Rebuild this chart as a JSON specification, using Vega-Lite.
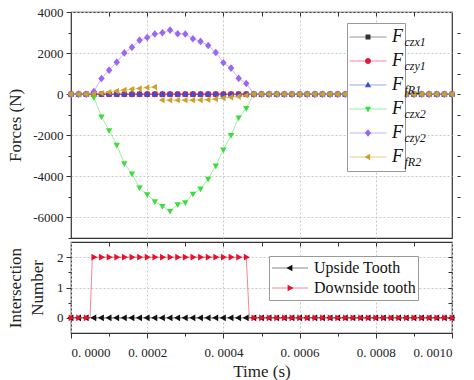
{
  "$schema": "https://vega.github.io/schema/vega-lite/v6.json",
  "padding": {"left": 5, "top": 5, "right": 5, "bottom": 2},
  "config": {
    "font": "Liberation Serif",
    "view": {"stroke": "#333333", "strokeWidth": 1.2},
    "axis": {
      "labelFont": "Liberation Serif", "titleFont": "Liberation Serif",
      "labelFontSize": 13, "titleFontSize": 17, "titleFontWeight": "normal",
      "labelColor": "#222222", "titleColor": "#222222", "tickColor": "#333333",
      "domain": false, "gridColor": "#c8c8c8", "gridDash": [2, 2], "gridWidth": 1
    },
    "legend": {"labelFont": "Liberation Serif", "labelColor": "#111111"}
  },
  "spacing": 0,
  "resolve": {"scale": {"color": "independent", "shape": "independent"}, "legend": {"color": "independent", "shape": "independent"}},
  "vconcat": [
    {
      "width": 381, "height": 226,
      "data": {"values": [
        {"t": 0, "Fczx1": 0, "Fczy1": 0, "FfR1": 0, "Fczx2": 0, "Fczy2": 0, "FfR2": 0},
        {"t": 0.00002, "Fczx1": 0, "Fczy1": 0, "FfR1": 0, "Fczx2": 0, "Fczy2": 0, "FfR2": 0},
        {"t": 0.00004, "Fczx1": 0, "Fczy1": 0, "FfR1": 0, "Fczx2": 0, "Fczy2": 0, "FfR2": 0},
        {"t": 0.00006, "Fczx1": 0, "Fczy1": 0, "FfR1": 0, "Fczx2": -160, "Fczy2": 130, "FfR2": 10},
        {"t": 0.00008, "Fczx1": 0, "Fczy1": 0, "FfR1": 0, "Fczx2": -1090, "Fczy2": 760, "FfR2": 50},
        {"t": 0.0001, "Fczx1": 0, "Fczy1": 0, "FfR1": 0, "Fczx2": -1770, "Fczy2": 1170, "FfR2": 100},
        {"t": 0.00012, "Fczx1": 0, "Fczy1": 0, "FfR1": 0, "Fczx2": -2470, "Fczy2": 1560, "FfR2": 150},
        {"t": 0.00014, "Fczx1": 0, "Fczy1": 0, "FfR1": 0, "Fczx2": -3370, "Fczy2": 2010, "FfR2": 200},
        {"t": 0.00016, "Fczx1": 0, "Fczy1": 0, "FfR1": 0, "Fczx2": -3870, "Fczy2": 2280, "FfR2": 240},
        {"t": 0.00018, "Fczx1": 0, "Fczy1": 0, "FfR1": 0, "Fczx2": -4550, "Fczy2": 2630, "FfR2": 280},
        {"t": 0.0002, "Fczx1": 0, "Fczy1": 0, "FfR1": 0, "Fczx2": -4880, "Fczy2": 2760, "FfR2": 320},
        {"t": 0.00022, "Fczx1": 0, "Fczy1": 0, "FfR1": 0, "Fczx2": -5220, "Fczy2": 2930, "FfR2": 350},
        {"t": 0.00024, "Fczx1": 0, "Fczy1": 0, "FfR1": 0, "Fczx2": -5450, "Fczy2": 2990, "FfR2": -290},
        {"t": 0.00026, "Fczx1": 0, "Fczy1": 0, "FfR1": 0, "Fczx2": -5690, "Fczy2": 3120, "FfR2": -290},
        {"t": 0.00028, "Fczx1": 0, "Fczy1": 0, "FfR1": 0, "Fczx2": -5370, "Fczy2": 2940, "FfR2": -290},
        {"t": 0.0003, "Fczx1": 0, "Fczy1": 0, "FfR1": 0, "Fczx2": -5270, "Fczy2": 2930, "FfR2": -290},
        {"t": 0.00032, "Fczx1": 0, "Fczy1": 0, "FfR1": 0, "Fczx2": -4850, "Fczy2": 2700, "FfR2": -290},
        {"t": 0.00034, "Fczx1": 0, "Fczy1": 0, "FfR1": 0, "Fczx2": -4600, "Fczy2": 2570, "FfR2": -285},
        {"t": 0.00036, "Fczx1": 0, "Fczy1": 0, "FfR1": 0, "Fczx2": -4130, "Fczy2": 2370, "FfR2": -270},
        {"t": 0.00038, "Fczx1": 0, "Fczy1": 0, "FfR1": 0, "Fczx2": -3480, "Fczy2": 2030, "FfR2": -230},
        {"t": 0.0004, "Fczx1": 0, "Fczy1": 0, "FfR1": 0, "Fczx2": -2700, "Fczy2": 1530, "FfR2": -190},
        {"t": 0.00042, "Fczx1": 0, "Fczy1": 0, "FfR1": 0, "Fczx2": -2000, "Fczy2": 1270, "FfR2": -150},
        {"t": 0.00044, "Fczx1": 0, "Fczy1": 0, "FfR1": 0, "Fczx2": -1140, "Fczy2": 770, "FfR2": -110},
        {"t": 0.00046, "Fczx1": 0, "Fczy1": 0, "FfR1": 0, "Fczx2": -680, "Fczy2": 520, "FfR2": -60},
        {"t": 0.00048, "Fczx1": 0, "Fczy1": 0, "FfR1": 0, "Fczx2": 0, "Fczy2": 0, "FfR2": 0},
        {"t": 0.0005, "Fczx1": 0, "Fczy1": 0, "FfR1": 0, "Fczx2": 0, "Fczy2": 0, "FfR2": 0},
        {"t": 0.00052, "Fczx1": 0, "Fczy1": 0, "FfR1": 0, "Fczx2": 0, "Fczy2": 0, "FfR2": 0},
        {"t": 0.00054, "Fczx1": 0, "Fczy1": 0, "FfR1": 0, "Fczx2": 0, "Fczy2": 0, "FfR2": 0},
        {"t": 0.00056, "Fczx1": 0, "Fczy1": 0, "FfR1": 0, "Fczx2": 0, "Fczy2": 0, "FfR2": 0},
        {"t": 0.00058, "Fczx1": 0, "Fczy1": 0, "FfR1": 0, "Fczx2": 0, "Fczy2": 0, "FfR2": 0},
        {"t": 0.0006, "Fczx1": 0, "Fczy1": 0, "FfR1": 0, "Fczx2": 0, "Fczy2": 0, "FfR2": 0},
        {"t": 0.00062, "Fczx1": 0, "Fczy1": 0, "FfR1": 0, "Fczx2": 0, "Fczy2": 0, "FfR2": 0},
        {"t": 0.00064, "Fczx1": 0, "Fczy1": 0, "FfR1": 0, "Fczx2": 0, "Fczy2": 0, "FfR2": 0},
        {"t": 0.00066, "Fczx1": 0, "Fczy1": 0, "FfR1": 0, "Fczx2": 0, "Fczy2": 0, "FfR2": 0},
        {"t": 0.00068, "Fczx1": 0, "Fczy1": 0, "FfR1": 0, "Fczx2": 0, "Fczy2": 0, "FfR2": 0},
        {"t": 0.0007, "Fczx1": 0, "Fczy1": 0, "FfR1": 0, "Fczx2": 0, "Fczy2": 0, "FfR2": 0},
        {"t": 0.00072, "Fczx1": 0, "Fczy1": 0, "FfR1": 0, "Fczx2": 0, "Fczy2": 0, "FfR2": 0},
        {"t": 0.00074, "Fczx1": 0, "Fczy1": 0, "FfR1": 0, "Fczx2": 0, "Fczy2": 0, "FfR2": 0},
        {"t": 0.00076, "Fczx1": 0, "Fczy1": 0, "FfR1": 0, "Fczx2": 0, "Fczy2": 0, "FfR2": 0},
        {"t": 0.00078, "Fczx1": 0, "Fczy1": 0, "FfR1": 0, "Fczx2": 0, "Fczy2": 0, "FfR2": 0},
        {"t": 0.0008, "Fczx1": 0, "Fczy1": 0, "FfR1": 0, "Fczx2": 0, "Fczy2": 0, "FfR2": 0},
        {"t": 0.00082, "Fczx1": 0, "Fczy1": 0, "FfR1": 0, "Fczx2": 0, "Fczy2": 0, "FfR2": 0},
        {"t": 0.00084, "Fczx1": 0, "Fczy1": 0, "FfR1": 0, "Fczx2": 0, "Fczy2": 0, "FfR2": 0},
        {"t": 0.00086, "Fczx1": 0, "Fczy1": 0, "FfR1": 0, "Fczx2": 0, "Fczy2": 0, "FfR2": 0},
        {"t": 0.00088, "Fczx1": 0, "Fczy1": 0, "FfR1": 0, "Fczx2": 0, "Fczy2": 0, "FfR2": 0},
        {"t": 0.0009, "Fczx1": 0, "Fczy1": 0, "FfR1": 0, "Fczx2": 0, "Fczy2": 0, "FfR2": 0},
        {"t": 0.00092, "Fczx1": 0, "Fczy1": 0, "FfR1": 0, "Fczx2": 0, "Fczy2": 0, "FfR2": 0},
        {"t": 0.00094, "Fczx1": 0, "Fczy1": 0, "FfR1": 0, "Fczx2": 0, "Fczy2": 0, "FfR2": 0},
        {"t": 0.00096, "Fczx1": 0, "Fczy1": 0, "FfR1": 0, "Fczx2": 0, "Fczy2": 0, "FfR2": 0},
        {"t": 0.00098, "Fczx1": 0, "Fczy1": 0, "FfR1": 0, "Fczx2": 0, "Fczy2": 0, "FfR2": 0},
        {"t": 0.001, "Fczx1": 0, "Fczy1": 0, "FfR1": 0, "Fczx2": 0, "Fczy2": 0, "FfR2": 0}
      ]},
      "transform": [{"fold": ["Fczx1", "Fczy1", "FfR1", "Fczx2", "Fczy2", "FfR2"], "as": ["series", "value"]}],
      "layer": [
        {
          "mark": {"type": "line", "strokeWidth": 1, "opacity": 0.5},
          "encoding": {
            "x": {"field": "t", "type": "quantitative", "scale": {"domain": [0, 0.001], "nice": false, "zero": false},
              "axis": {"orient": "bottom", "labels": false, "ticks": false, "title": null, "grid": true, "values": [0.0002, 0.0004, 0.0006, 0.0008]}},
            "y": {"field": "value", "type": "quantitative", "scale": {"domain": [-7000, 4000], "nice": false, "zero": false},
              "axis": {"orient": "left", "title": "Forces (N)", "titlePadding": 8, "labelPadding": 3,
                "values": [-7000, -6000, -5000, -4000, -3000, -2000, -1000, 0, 1000, 2000, 3000, 4000],
                "labelExpr": "datum.value % 2000 === 0 ? '' + datum.value : ''",
                "tickSize": {"condition": {"test": "datum.value % 2000 === 0", "value": 5}, "value": 3},
                "gridOpacity": {"condition": {"test": "datum.value % 2000 === 0", "value": 1}, "value": 0}}},
            "color": {"field": "series", "type": "nominal",
              "scale": {"domain": ["Fczx1", "Fczy1", "FfR1", "Fczx2", "Fczy2", "FfR2"], "range": ["#333333", "#e3173e", "#3c4fe0", "#3fdc3f", "#9b66f2", "#c9a227"]},
              "legend": {"orient": "none", "legendX": 276, "legendY": 11, "title": null, "symbolType": "M-1.85,0H1.85", "symbolSize": 400, "symbolStrokeWidth": 1, "symbolOpacity": 0.5, "symbolOffset": 8.5, "labelOffset": 13.5, "labelExpr": "'F\u00a0\u00a0\u00a0\u00a0\u00a0'", "labelFontStyle": "italic", "labelFontSize": 18, "padding": 2, "rowPadding": 0, "clipHeight": 24, "fillColor": "white", "strokeColor": "#999999"}}
          }
        },
        {
          "mark": {"type": "point", "filled": true, "size": 400, "opacity": 1},
          "encoding": {
            "x": {"field": "t", "type": "quantitative", "axis": {"orient": "top", "labels": false, "title": null, "grid": false, "tickSize": -4, "values": [0.0001, 0.0002, 0.0003, 0.0004, 0.0005, 0.0006, 0.0007, 0.0008, 0.0009]}},
            "y": {"field": "value", "type": "quantitative", "axis": {"orient": "right", "labels": false, "title": null, "grid": false, "tickSize": 3, "offset": 5, "values": [-6000, -5000, -4000, -3000, -2000, -1000, 0, 1000, 2000, 3000]}},
            "color": {"field": "series", "type": "nominal",
              "legend": {"orient": "none", "legendX": 276, "legendY": 11, "title": null, "symbolSize": 400, "symbolOffset": 8.5, "symbolStrokeWidth": 1, "labelOffset": 26, "labelExpr": "slice(datum.label, 1)", "labelFontStyle": "italic", "labelFontSize": 12, "labelBaseline": "top", "padding": 2, "rowPadding": 0, "clipHeight": 24}},
            "shape": {"field": "series", "type": "nominal",
              "scale": {"domain": ["Fczx1", "Fczy1", "FfR1", "Fczx2", "Fczy2", "FfR2"], "range": ["M-0.25,-0.25H0.25V0.25H-0.25Z", "M-0.3,0A0.3,0.3,0,1,1,0.3,0A0.3,0.3,0,1,1,-0.3,0Z", "M0,-0.35L0.32,0.22H-0.32Z", "M0,0.35L0.32,-0.22H-0.32Z", "M0,-0.38L0.32,0L0,0.38L-0.32,0Z", "M-0.35,0L0.22,-0.32V0.32Z"]},
              "legend": {"orient": "none", "legendX": 276, "legendY": 11, "title": null, "symbolSize": 400, "symbolOffset": 8.5, "symbolStrokeWidth": 1, "labelOffset": 26, "labelExpr": "slice(datum.label, 1)", "labelFontStyle": "italic", "labelFontSize": 12, "labelBaseline": "top", "padding": 2, "rowPadding": 0, "clipHeight": 24}}
          }
        }
      ],
      "resolve": {"axis": {"x": "independent", "y": "independent"}, "legend": {"color": "independent", "shape": "independent"}}
    },
    {
      "width": 381, "height": 91,
      "data": {"values": [
        {"t": 0, "Upside Tooth": 0, "Downside tooth": 0},
        {"t": 0.00002, "Upside Tooth": 0, "Downside tooth": 0},
        {"t": 0.00004, "Upside Tooth": 0, "Downside tooth": 0},
        {"t": 0.00005, "Upside Tooth": 0, "Downside tooth": 0},
        {"t": 0.000056, "Upside Tooth": 0, "Downside tooth": 2},
        {"t": 0.00006, "Upside Tooth": 0, "Downside tooth": 2},
        {"t": 0.00008, "Upside Tooth": 0, "Downside tooth": 2},
        {"t": 0.0001, "Upside Tooth": 0, "Downside tooth": 2},
        {"t": 0.00012, "Upside Tooth": 0, "Downside tooth": 2},
        {"t": 0.00014, "Upside Tooth": 0, "Downside tooth": 2},
        {"t": 0.00016, "Upside Tooth": 0, "Downside tooth": 2},
        {"t": 0.00018, "Upside Tooth": 0, "Downside tooth": 2},
        {"t": 0.0002, "Upside Tooth": 0, "Downside tooth": 2},
        {"t": 0.00022, "Upside Tooth": 0, "Downside tooth": 2},
        {"t": 0.00024, "Upside Tooth": 0, "Downside tooth": 2},
        {"t": 0.00026, "Upside Tooth": 0, "Downside tooth": 2},
        {"t": 0.00028, "Upside Tooth": 0, "Downside tooth": 2},
        {"t": 0.0003, "Upside Tooth": 0, "Downside tooth": 2},
        {"t": 0.00032, "Upside Tooth": 0, "Downside tooth": 2},
        {"t": 0.00034, "Upside Tooth": 0, "Downside tooth": 2},
        {"t": 0.00036, "Upside Tooth": 0, "Downside tooth": 2},
        {"t": 0.00038, "Upside Tooth": 0, "Downside tooth": 2},
        {"t": 0.0004, "Upside Tooth": 0, "Downside tooth": 2},
        {"t": 0.00042, "Upside Tooth": 0, "Downside tooth": 2},
        {"t": 0.00044, "Upside Tooth": 0, "Downside tooth": 2},
        {"t": 0.00046, "Upside Tooth": 0, "Downside tooth": 2},
        {"t": 0.000468, "Upside Tooth": 0, "Downside tooth": 0},
        {"t": 0.00048, "Upside Tooth": 0, "Downside tooth": 0},
        {"t": 0.0005, "Upside Tooth": 0, "Downside tooth": 0},
        {"t": 0.00052, "Upside Tooth": 0, "Downside tooth": 0},
        {"t": 0.00054, "Upside Tooth": 0, "Downside tooth": 0},
        {"t": 0.00056, "Upside Tooth": 0, "Downside tooth": 0},
        {"t": 0.00058, "Upside Tooth": 0, "Downside tooth": 0},
        {"t": 0.0006, "Upside Tooth": 0, "Downside tooth": 0},
        {"t": 0.00062, "Upside Tooth": 0, "Downside tooth": 0},
        {"t": 0.00064, "Upside Tooth": 0, "Downside tooth": 0},
        {"t": 0.00066, "Upside Tooth": 0, "Downside tooth": 0},
        {"t": 0.00068, "Upside Tooth": 0, "Downside tooth": 0},
        {"t": 0.0007, "Upside Tooth": 0, "Downside tooth": 0},
        {"t": 0.00072, "Upside Tooth": 0, "Downside tooth": 0},
        {"t": 0.00074, "Upside Tooth": 0, "Downside tooth": 0},
        {"t": 0.00076, "Upside Tooth": 0, "Downside tooth": 0},
        {"t": 0.00078, "Upside Tooth": 0, "Downside tooth": 0},
        {"t": 0.0008, "Upside Tooth": 0, "Downside tooth": 0},
        {"t": 0.00082, "Upside Tooth": 0, "Downside tooth": 0},
        {"t": 0.00084, "Upside Tooth": 0, "Downside tooth": 0},
        {"t": 0.00086, "Upside Tooth": 0, "Downside tooth": 0},
        {"t": 0.00088, "Upside Tooth": 0, "Downside tooth": 0},
        {"t": 0.0009, "Upside Tooth": 0, "Downside tooth": 0},
        {"t": 0.00092, "Upside Tooth": 0, "Downside tooth": 0},
        {"t": 0.00094, "Upside Tooth": 0, "Downside tooth": 0},
        {"t": 0.00096, "Upside Tooth": 0, "Downside tooth": 0},
        {"t": 0.00098, "Upside Tooth": 0, "Downside tooth": 0},
        {"t": 0.001, "Upside Tooth": 0, "Downside tooth": 0}
      ]},
      "transform": [{"fold": ["Upside Tooth", "Downside tooth"], "as": ["tooth", "count"]}],
      "layer": [
        {
          "mark": {"type": "line", "strokeWidth": 1, "opacity": 0.5},
          "encoding": {
            "x": {"field": "t", "type": "quantitative", "scale": {"domain": [0, 0.001], "nice": false, "zero": false},
              "axis": {"orient": "bottom", "title": "Time (s)", "titleFontSize": 17, "titlePadding": 4, "labelPadding": 8,
                "values": [0, 0.0001, 0.0002, 0.0003, 0.0004, 0.0005, 0.0006, 0.0007, 0.0008, 0.0009, 0.001],
                "labelExpr": "round(datum.value * 10000) % 2 === 0 ? replace(format(datum.value, '.4f'), '.', '. ') : ''",
                "tickSize": {"condition": {"test": "round(datum.value * 10000) % 2 === 0", "value": 5}, "value": 3},
                "gridOpacity": {"condition": {"test": "round(datum.value * 10000) % 2 === 0", "value": 1}, "value": 0}}},
            "y": {"field": "count", "type": "quantitative", "scale": {"domain": [-0.5, 2.5], "nice": false, "zero": false},
              "axis": {"orient": "left", "title": ["Intersection", "Number"], "titleLineHeight": 22, "titlePadding": 10, "labelPadding": 3,
                "values": [0, 0.5, 1, 1.5, 2],
                "labelExpr": "datum.value % 1 === 0 ? '' + datum.value : ''",
                "tickSize": {"condition": {"test": "datum.value % 1 === 0", "value": 5}, "value": 3},
                "gridOpacity": {"condition": {"test": "datum.value % 1 === 0", "value": 1}, "value": 0}}},
            "color": {"field": "tooth", "type": "nominal",
              "scale": {"domain": ["Upside Tooth", "Downside tooth"], "range": ["#111111", "#e8102a"]},
              "legend": {"orient": "none", "legendX": 198, "legendY": 14, "title": null, "symbolType": "M-2.25,0H2.25", "symbolSize": 256, "symbolStrokeWidth": 1, "symbolOpacity": 0.5, "symbolOffset": 10.5, "labelOffset": 15.5, "labelFontSize": 16, "padding": 2, "rowPadding": 0, "clipHeight": 20, "fillColor": "white", "strokeColor": "#999999"}}
          }
        },
        {
          "transform": [{"filter": "abs(datum.t * 50000 - round(datum.t * 50000)) < 0.01"}],
          "mark": {"type": "point", "filled": true, "size": 256, "opacity": 1},
          "encoding": {
            "x": {"field": "t", "type": "quantitative", "axis": {"orient": "top", "labels": false, "title": null, "grid": false, "tickSize": -4, "values": [0.0001, 0.0002, 0.0003, 0.0004, 0.0005, 0.0006, 0.0007, 0.0008, 0.0009]}},
            "y": {"field": "count", "type": "quantitative", "axis": {"orient": "right", "labels": false, "title": null, "grid": false, "tickSize": -4, "values": [0, 0.5, 1, 1.5, 2]}},
            "color": {"field": "tooth", "type": "nominal",
              "legend": {"orient": "none", "legendX": 198, "legendY": 14, "title": null, "symbolSize": 256, "symbolOffset": 10.5, "symbolStrokeWidth": 1, "labelOffset": 15.5, "labelExpr": "''", "labelFontSize": 16, "padding": 2, "rowPadding": 0, "clipHeight": 20}},
            "shape": {"field": "tooth", "type": "nominal",
              "scale": {"domain": ["Upside Tooth", "Downside tooth"], "range": ["M-0.45,0L0.3,-0.42V0.42Z", "M0.45,0L-0.3,-0.42V0.42Z"]},
              "legend": {"orient": "none", "legendX": 198, "legendY": 14, "title": null, "symbolSize": 256, "symbolOffset": 10.5, "symbolStrokeWidth": 1, "labelOffset": 15.5, "labelExpr": "''", "labelFontSize": 16, "padding": 2, "rowPadding": 0, "clipHeight": 20}}
          }
        }
      ],
      "resolve": {"axis": {"x": "independent", "y": "independent"}, "legend": {"color": "independent", "shape": "independent"}}
    }
  ]
}
